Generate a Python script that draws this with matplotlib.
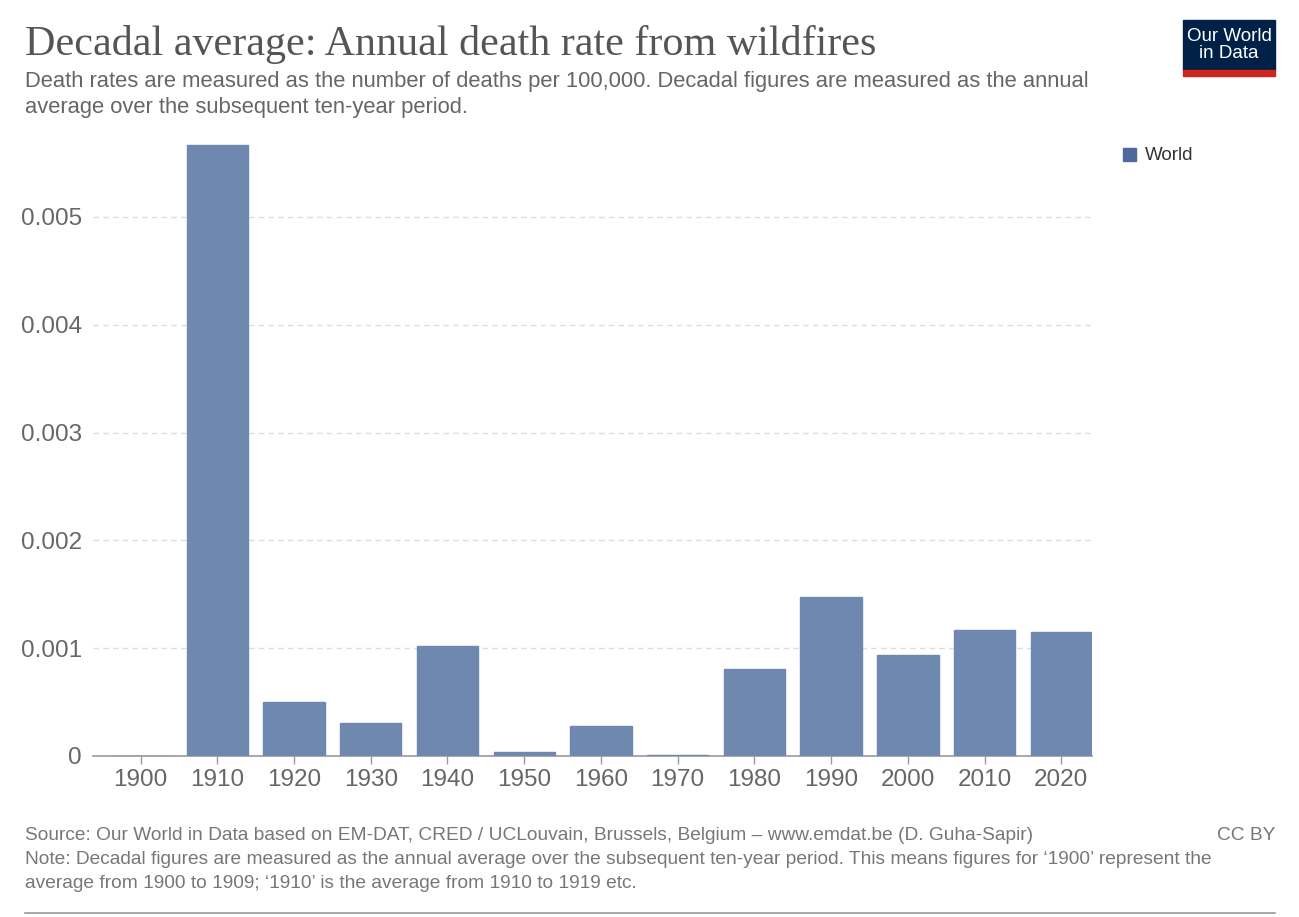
import numpy as np
import matplotlib.pyplot as plt
from matplotlib.patches import Rectangle

plt.switch_backend('Agg')
plt.rcParams['font.family'] = ['Liberation Sans', 'DejaVu Sans']

decades = ['1900', '1910', '1920', '1930', '1940', '1950', '1960',
           '1970', '1980', '1990', '2000', '2010', '2020']
world = [0.0, 0.00567, 0.000501, 0.000306, 0.00102, 0.000037, 0.000278,
         0.00001, 0.000807, 0.001475, 0.000937, 0.00117, 0.00115]
yticks = [0, 0.001, 0.002, 0.003, 0.004, 0.005]
ytick_labels = ['0', '0.001', '0.002', '0.003', '0.004', '0.005']

W, H = 1299, 917
fig = plt.figure(figsize=(W / 100, H / 100), dpi=100)

top_px = 136
ax = fig.add_axes([93 / W, 1 - 756 / H, (1092 - 93) / W, (756 - top_px) / H])
x = np.arange(len(decades))
ax.bar(x, world, width=0.8, color='#6f88b0', edgecolor='#6f88b0', label='World', zorder=3)
ax.set_xlim(-0.62, len(decades) - 0.6)
ax.set_ylim(0, 0.00575)
ax.set_yticks(yticks)
ax.set_yticklabels(ytick_labels)
ax.set_xticks(x)
ax.set_xticklabels(decades)
for s in ['top', 'right', 'left']:
    ax.spines[s].set_visible(False)
ax.spines['bottom'].set_color('#999999')
ax.spines['bottom'].set_linewidth(1.2)
ax.tick_params(axis='y', length=0, pad=8, labelsize=17.5, labelcolor='#666666')
ax.tick_params(axis='x', length=6, width=1, color='#999999', pad=3, labelsize=17.5, labelcolor='#666666')
for t in yticks[1:]:
    ax.axhline(t, color='#dddddd', linestyle=(0, (4, 3)), linewidth=1, zorder=1)

# legend
fig.patches.append(Rectangle((1123 / W, 1 - 161 / H), 13 / W, 13 / H,
                             transform=fig.transFigure, color='#4c6a9c'))
fig.text(1145 / W, 1 - 155 / H, 'World', fontsize=13.5, color='#333333', va='center')

# titles
fig.text(25 / W, 1 - 45 / H, 'Decadal average: Annual death rate from wildfires',
         family=['Liberation Serif', 'DejaVu Serif'], fontsize=30.3, color='#555555', va='center')
fig.text(25 / W, 1 - 81 / H, 'Death rates are measured as the number of deaths per 100,000. '
         'Decadal figures are measured as the annual', fontsize=15.8, color='#666666', va='center')
fig.text(25 / W, 1 - 108 / H, 'average over the subsequent ten-year period.',
         fontsize=15.8, color='#666666', va='center')

# logo
fig.patches.append(Rectangle((1183 / W, 1 - 70 / H), 92 / W, 50 / H,
                             transform=fig.transFigure, color='#002147'))
fig.patches.append(Rectangle((1183 / W, 1 - 76 / H), 92 / W, 6 / H,
                             transform=fig.transFigure, color='#ce261e'))
fig.text(1229 / W, 1 - 45 / H, 'Our World\nin Data', fontsize=13.5, color='white',
         ha='center', va='center', linespacing=0.95)

# footer
fig.text(25 / W, 1 - 835 / H, 'Source: Our World in Data based on EM-DAT, CRED / UCLouvain, Brussels, '
         'Belgium – www.emdat.be (D. Guha-Sapir)', fontsize=13.8, color='#777777', va='center')
fig.text(1275 / W, 1 - 835 / H, 'CC BY', fontsize=13.8, color='#777777', va='center', ha='right')
fig.text(25 / W, 1 - 860 / H, 'Note: Decadal figures are measured as the annual average over the subsequent '
         'ten-year period. This means figures for ‘1900’ represent the', fontsize=13.8, color='#777777', va='center')
fig.text(25 / W, 1 - 883 / H, 'average from 1900 to 1909; ‘1910’ is the average from 1910 to 1919 etc.',
         fontsize=13.8, color='#777777', va='center')
fig.add_artist(plt.Line2D([25 / W, 1275 / W], [1 - 913 / H, 1 - 913 / H], color='#999999', linewidth=1.2))

fig.savefig('out.png', dpi=100)
plt.close('all')
